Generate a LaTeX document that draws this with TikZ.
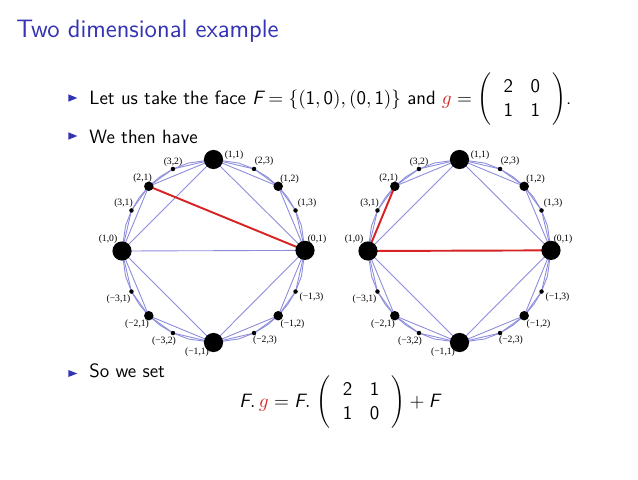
\documentclass[tikz,border=0pt]{standalone}
\usepackage{fontspec}
\newfontfamily\lblfont{Liberation Serif}
\definecolor{struct}{RGB}{51,51,179}
\definecolor{edgeblue}{RGB}{140,140,220}
\definecolor{redline}{RGB}{215,35,35}
\definecolor{gred}{RGB}{215,40,40}
\newcommand\mF{\mbox{\sffamily\itshape F}}
\newcommand\padd{\hspace{2pt}}
\tikzset{
  edge/.style={draw=edgeblue, line width=0.5pt},
  rededge/.style={draw=redline, line width=1.1pt},
  bigdot/.style={circle, fill=black, inner sep=0pt, minimum size=3.85mm},
  middot/.style={circle, fill=black, inner sep=0pt, minimum size=1.9mm},
  smalldot/.style={circle, fill=black, inner sep=0pt, minimum size=0.9mm},
  lbl/.style={font=\lblfont\fontsize{5.5}{6}\selectfont, inner sep=0pt},
  txt/.style={anchor=base west, inner sep=0pt, font=\sffamily\fontsize{11}{13.6}\selectfont},
  bulletmark/.style={fill=struct}
}
\begin{document}
\begin{tikzpicture}[x=0.20063mm,y=0.20063mm]
\useasboundingbox[fill=white] (0,0) rectangle (638,-479);

% texts
\node[anchor=base west, inner sep=0pt, text=struct, font=\sffamily\fontsize{14.4}{17}\selectfont] (title) at (16,-37.3) {Two dimensional example};
\fill[bulletmark] (68.3,-94.3) -- (77.3,-98) -- (68.3,-101.7) -- cycle;
\node[txt] (line1) at (89,-104.3) {Let us take the face $\mF=\{(\mathsf{1},\mathsf{0}),(\mathsf{0},\mathsf{1})\}$ and $\textcolor{gred}{g}=\left(\padd\begin{array}{cc}\mathsf{2}&\mathsf{0}\\\mathsf{1}&\mathsf{1}\end{array}\padd\right)$.};
\fill[bulletmark] (68.3,-132.3) -- (77.3,-136) -- (68.3,-139.7) -- cycle;
\node[txt] (line2) at (89,-143.3) {We then have};
\fill[bulletmark] (68.3,-370) -- (77.3,-373.5) -- (68.3,-377) -- cycle;
\node[txt] (line3) at (89,-377.8) {So we set};
\node[anchor=west, inner sep=0pt, font=\sffamily\fontsize{11}{13.6}\selectfont] (eq) at (239,-402.5) {$\mF.\hspace{2pt}\textcolor{gred}{g}=\mF.\,\left(\padd\begin{array}{cc}\mathsf{2}&\mathsf{1}\\\mathsf{1}&\mathsf{0}\end{array}\padd\right)+\mF$};

\foreach \fig/\ox in {P/213.5, Q/459.5} {
  \foreach \k/\ang in {0/180,1/164,2/153.7,3/144.2,4/135,5/125.8,6/116.3,7/106,
                       8/90,9/74,10/63.7,11/54.2,12/45,13/35.8,14/26.3,15/16,
                       16/0.4,17/-16,18/-26.3,19/-35.8,20/-45,21/-54.2,22/-63.7,23/-74,
                       24/-90,25/-106,26/-116.3,27/-125.8,28/-135,29/-144.2,30/-153.7,31/-164} {
    \coordinate (\fig\k) at ({\ox+91.5*cos(\ang)},{-251+91.5*sin(\ang)});
  }
  \foreach \s in {1,2,4,8} {
    \pgfmathtruncatemacro\nn{32/\s-1}
    \foreach \j in {0,...,\nn} {
      \pgfmathtruncatemacro\ia{\j*\s}
      \pgfmathtruncatemacro\ib{mod(\ia+\s,32)}
      \draw[edge] (\fig\ia) -- (\fig\ib);
    }
  }
  \draw[edge] (\fig0) -- (\fig16);
}
\draw[rededge] (P4) -- (P16);
\draw[rededge] (Q0) -- (Q4);
\draw[rededge] (Q0) -- (Q16);

\foreach \fig/\dx in {P/0, Q/246} {
  \foreach \k in {0,8,16,24} { \node[bigdot] (\fig D\k) at (\fig\k) {}; }
  \foreach \k in {4,12,20,28} { \node[middot] (\fig D\k) at (\fig\k) {}; }
  \foreach \k in {2,6,10,14,18,22,26,30} { \node[smalldot] (\fig D\k) at (\fig\k) {}; }
  \foreach \k/\lx/\ly/\t in {0/108/239/{(1,0)}, 2/123.5/203/{(3,1)}, 4/142.5/178.5/{(2,1)},
      6/173/162/{(3,2)}, 8/234/155/{(1,1)}, 10/264/161.5/{(2,3)}, 12/289.5/179.5/{(1,2)},
      14/307/203/{(1,3)}, 16/317/239/{(0,1)}, 18/311.5/297/{(−1,3)}, 20/292.5/324/{(−1,2)},
      22/265/340/{(−2,3)}, 24/197/352.5/{(−1,1)}, 26/164/341/{(−3,2)}, 28/137/324.5/{(−2,1)},
      30/118.5/299/{(−3,1)}} {
    \node[lbl] (\fig L\k) at ({\lx+\dx},-\ly) {\t};
  }
}
\end{tikzpicture}
\end{document}
